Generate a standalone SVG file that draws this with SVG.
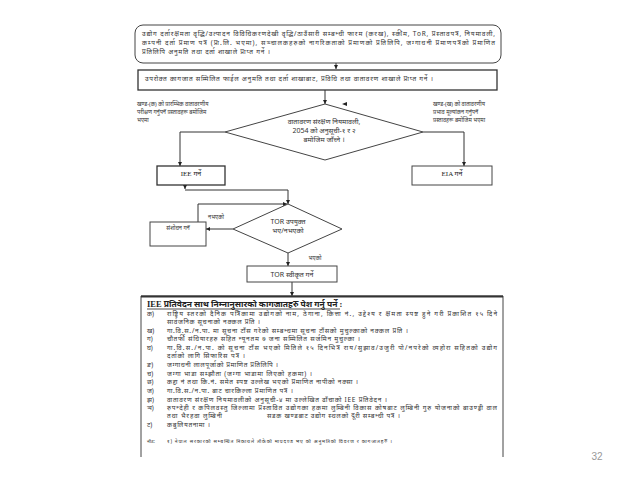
<svg xmlns="http://www.w3.org/2000/svg" width="638" height="478" viewBox="0 0 638 478">
<defs>
<marker id="ah" viewBox="0 0 6 6" refX="6" refY="3" markerWidth="4" markerHeight="4" orient="auto" markerUnits="userSpaceOnUse">
<path d="M0,0 L6,3 L0,6 z" fill="#222"/>
</marker>
<style>
.box{fill:#fff;stroke:#444;stroke-width:1}
.bx2{fill:#fff;stroke:#333;stroke-width:1.3}
.ln{fill:none;stroke:#333;stroke-width:1}
.t{font-family:"Noto Sans","Lohit Devanagari","Liberation Sans",sans-serif;font-size:6.5px;fill:#333}
.s{font-family:"Noto Sans","Lohit Devanagari","Liberation Sans",sans-serif;font-size:5.6px;fill:#333}
.m{font-family:"Noto Sans","Lohit Devanagari","Liberation Sans",sans-serif;font-size:7px;fill:#333}
.sr{font-family:"Liberation Serif","Noto Sans",serif;font-size:7px;fill:#222}
.h{font-family:"Liberation Serif","Noto Sans",serif;font-size:8.5px;font-weight:bold;fill:#222}
.c{text-anchor:middle}
</style>
</defs>
<rect width="638" height="478" fill="#fff"/>

<g id="connectors">
<path class="ln" d="M336,63 V69" marker-end="url(#ah)"/>
<path class="ln" d="M325,90 V104" marker-end="url(#ah)"/>
<path class="ln" d="M225,132 H180 V166" marker-end="url(#ah)"/>
<path class="ln" d="M423,132 H464 V166" marker-end="url(#ah)"/>
<path class="ln" d="M185,185 V189" marker-end="url(#ah)"/>
<path class="ln" d="M185,190 H288 V204" marker-end="url(#ah)"/>
<path class="ln" d="M198,222 V204 H287" marker-end="url(#ah)"/>
<path class="ln" d="M233,229 H206" marker-end="url(#ah)"/>
<path class="ln" d="M288,253 V266" marker-end="url(#ah)"/>
<path class="ln" d="M292,282 V296" marker-end="url(#ah)"/>
<polygon points="342,104 347,102 347,106" fill="#222"/>
</g>

<g id="n-start">
<rect class="box" x="135" y="25" width="366" height="38" rx="8"/>
<text class="t" x="142" y="36" textLength="353" lengthAdjust="spacing">उद्योग दर्तारक्षमता वृद्धि/उत्पादन विविधिकरणदेखी वृद्धि/ठाउँसारी सम्बन्धी फारम (करख), स्कीम, ToR, प्रस्तावपत्र, नियमावली,</text>
<text class="t" x="142" y="45" textLength="353" lengthAdjust="spacing">कम्पनी दर्ता प्रमाण पत्र (प्रा.लि. भएमा), सञ्चालकहरुको नागरिकताको प्रमाणको प्रतिलिपि, जग्गाधनी प्रमाणपत्रको प्रमाणित</text>
<text class="t" x="142" y="54" textLength="128" lengthAdjust="spacing">प्रतिलिपि अनुमति तथा दर्ता शाखाले प्राप्त गर्ने ।</text>
</g>

<g id="n-file">
<rect class="bx2" x="138" y="70" width="359" height="20"/>
<text class="t" x="145" y="81" textLength="288" lengthAdjust="spacing">उपरोक्त कागजात सम्मिलित फाईल अनुमति तथा दर्ता शाखाबाट, प्रविधि तथा वातावरण शाखाले प्राप्त गर्ने ।</text>
</g>

<g id="n-check">
<polygon class="box" points="325,104 423,132 325,160 225,132"/>
<text class="m c" x="324" y="124">वातावरण संरक्षण नियमावली,</text>
<text class="m c" x="324" y="133">2054 को अनुसूची-१ र २</text>
<text class="m c" x="324" y="142">बमोजिम जाँच्ने ।</text>
</g>

<g id="l-left">
<text class="s" x="137" y="106">खण्ड-(क) को प्रारम्भिक वातावरणीय</text>
<text class="s" x="137" y="114">परीक्षण गर्नुपर्ने प्रस्तावहरू बमोजिम</text>
<text class="s" x="137" y="122">भएमा</text>
</g>
<g id="l-right">
<text class="s" x="433" y="106">खण्ड-(ख) को वातावरणीय</text>
<text class="s" x="433" y="114">प्रभाव मूल्यांकन गर्नुपर्ने</text>
<text class="s" x="433" y="122">प्रस्तावहरू बमोजिम भएमा</text>
</g>

<g id="n-iee">
<rect class="bx2" x="157" y="166" width="68" height="19"/>
<text class="sr c" x="191" y="176">IEE गर्ने</text>
</g>
<g id="n-eia">
<rect class="box" x="412" y="166" width="80" height="19"/>
<text class="sr c" x="452" y="176">EIA गर्ने</text>
</g>

<g id="n-tor">
<polygon class="box" points="288,204 342,229 288,253 233,229"/>
<text class="m c" x="288" y="224">TOR उपयुक्त</text>
<text class="m c" x="288" y="233">भए/नभएको</text>
</g>
<text class="s c" x="216" y="219">नभएको</text>
<text class="s c" x="315" y="260">भएको</text>

<g id="n-revise">
<rect class="box" x="150" y="222" width="56" height="24"/>
<text class="s c" x="178" y="230">संशोधन गर्ने</text>
</g>

<g id="n-accept">
<rect class="box" x="247" y="266" width="90" height="16"/>
<text class="m c" x="292" y="277">TOR स्वीकृत गर्ने</text>
</g>

<g id="n-list">
<path d="M141,457 V296 H503 V457" fill="#fff" stroke="#444" stroke-width="1"/>
<line x1="141" y1="296.5" x2="503" y2="296.5" stroke="#333" stroke-width="1.8"/>
<text class="h" x="147" y="307">IEE प्रतिवेदन साथ निम्नानुसारको कागजातहरु पेश गर्नु पर्ने :</text>
<line x1="147" y1="309" x2="340" y2="309" stroke="#222" stroke-width="0.8"/>
<g class="t">
<text x="147" y="316">क)</text>
<text x="167" y="316" textLength="330" lengthAdjust="spacing">राष्ट्रिय स्तरको दैनिक पत्रिकामा उद्योगको नाम, ठेगाना, कित्ता नं., उद्देश्य र क्षमता स्पष्ट हुने गरी प्रकाशित १५ दिने</text>
<text x="167" y="324" textLength="93" lengthAdjust="spacing">सार्वजनिक सूचनाको नक्कल प्रति ।</text>
<text x="147" y="333">ख)</text>
<text x="167" y="333" textLength="241" lengthAdjust="spacing">गा.वि.स./न.पा. मा सूचना टाँस गरेको सम्बन्धमा सूचना टाँसको मुचुल्काको नक्कल प्रति ।</text>
<text x="147" y="341">ग)</text>
<text x="167" y="341" textLength="193" lengthAdjust="spacing">चौतर्फी संधियारहरु सहित न्यूनतम ७ जना सम्मिलित सर्जमिन मुचुल्का ।</text>
<text x="147" y="350">घ)</text>
<text x="167" y="350" textLength="330" lengthAdjust="spacing">गा.वि.स./न.पा. को सूचना टाँस भएको मितिले १५ दिनभित्र राय/सुझाव/उजुरी पो/नपरेको व्यहोरा सहितको उद्योग</text>
<text x="167" y="358" textLength="78" lengthAdjust="spacing">दर्ताको लागि सिफारिस पत्र ।</text>
<text x="147" y="367">ङ)</text>
<text x="167" y="367" textLength="111" lengthAdjust="spacing">जग्गाधनी लालपूर्जाको प्रमाणित प्रतिलिपि ।</text>
<text x="147" y="376">च)</text>
<text x="167" y="376" textLength="145" lengthAdjust="spacing">जग्गा भाडा सम्झौता (जग्गा भाडामा लिएको हकमा) ।</text>
<text x="147" y="384">छ)</text>
<text x="167" y="384" textLength="191" lengthAdjust="spacing">कद्दा नं तथा कि.नं. समेत स्पष्ट उल्लेख भएको प्रमाणित नापीको नक्सा ।</text>
<text x="147" y="393">ज)</text>
<text x="167" y="393" textLength="126" lengthAdjust="spacing">गा.वि.स./न.पा. बाट चारकिल्ला प्रमाणित पत्र ।</text>
<text x="147" y="402">झ)</text>
<text x="167" y="402" textLength="220" lengthAdjust="spacing">वातावरण संरक्षण नियमावलीको अनुसूची-४ मा उल्लेखित ढाँचाको IEE प्रतिवेदन ।</text>
<text x="147" y="410">ञ)</text>
<text x="167" y="410" textLength="330" lengthAdjust="spacing">रुपन्देही र कपिलवस्तु जिल्लामा प्रस्तावित उद्योगका हकमा लुम्बिनी विकास कोषबाट लुम्बिनी गुरु योजनाको बाउण्ड्री वाल</text>
<text x="167" y="418" textLength="55" lengthAdjust="spacing">तथा भैरहवा लुम्बिनी</text>
<text x="267" y="418" textLength="133" lengthAdjust="spacing">सडक खण्डबाट उद्योग स्थलको दूरी सम्बन्धी पत्र ।</text>
<text x="147" y="427">ट)</text>
<text x="167" y="427" textLength="43" lengthAdjust="spacing">कबुलियतनामा ।</text>
</g>
<text class="s" x="147" y="443" style="font-size:5px">नोट:</text>
<text class="s" x="167" y="443" style="font-size:5px" textLength="225" lengthAdjust="spacing">१) नेपाल सरकारको सम्बन्धित निकायले तोकेको मापदण्ड भए को अनुमतिको विवरण र कागजातहरु ।</text>
</g>

<text x="597" y="460" text-anchor="middle" style="font-family:'Liberation Sans',sans-serif;font-size:10px;fill:#999">32</text>
</svg>
